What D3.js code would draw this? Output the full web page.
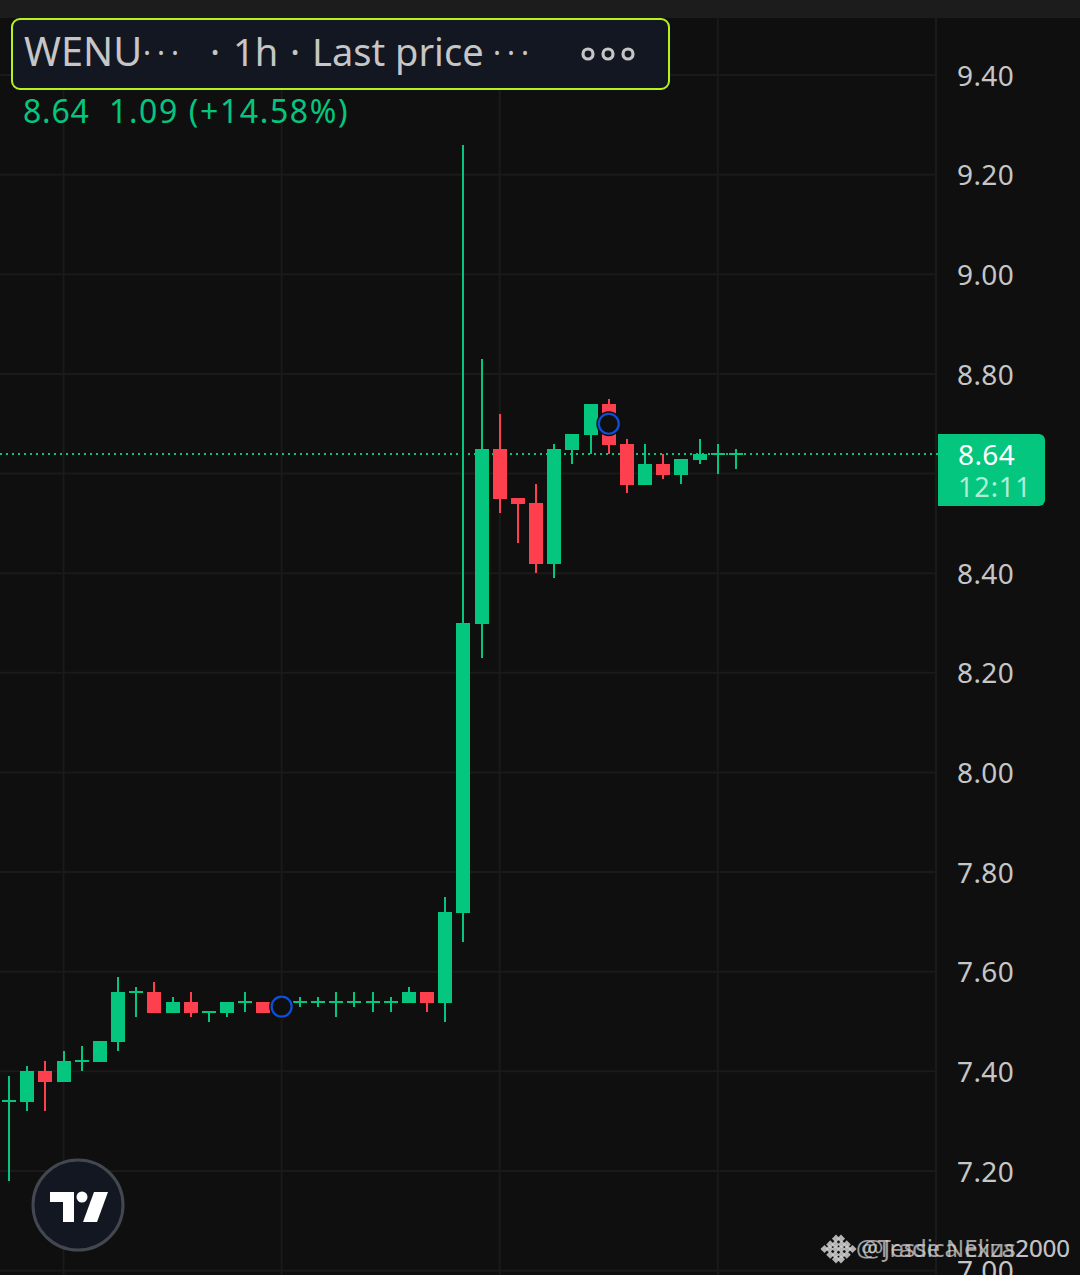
<!DOCTYPE html>
<html>
<head>
<meta charset="utf-8">
<script src="https://d3js.org/d3.v7.min.js"></script>
<style>
  html, body { margin: 0; padding: 0; background: #0f0f0f; }
  svg { display: block; }
  text { font-family: "Noto Sans", "Open Sans", sans-serif; }
</style>
</head>
<body>
<script>
// one entry per hourly candle, left to right
var opens  = [7.34,7.34,7.40,7.38,7.42,7.42,7.46,7.56,7.56,7.52,7.54,7.52,7.52,7.54,7.54,7.53,7.54,7.54,7.54,7.54,7.54,7.54,7.54,7.56,7.54,7.72,8.30,8.65,8.55,8.54,8.42,8.65,8.68,8.74,8.66,8.58,8.62,8.60,8.63,8.64,8.64];
var closes = [7.34,7.40,7.38,7.42,7.42,7.46,7.56,7.56,7.52,7.54,7.52,7.52,7.54,7.54,7.52,7.53,7.54,7.54,7.54,7.54,7.54,7.54,7.56,7.54,7.72,8.30,8.65,8.55,8.54,8.42,8.65,8.68,8.74,8.66,8.58,8.62,8.60,8.63,8.64,8.64,8.64];
var highs  = [7.39,7.41,7.42,7.44,7.45,7.46,7.59,7.57,7.58,7.55,7.56,7.52,7.54,7.56,7.54,7.53,7.55,7.55,7.56,7.56,7.56,7.55,7.57,7.56,7.75,9.26,8.83,8.72,8.55,8.58,8.66,8.68,8.74,8.75,8.67,8.66,8.64,8.63,8.67,8.66,8.65];
var lows   = [7.18,7.32,7.32,7.38,7.40,7.42,7.44,7.51,7.52,7.52,7.51,7.50,7.51,7.52,7.52,7.53,7.53,7.53,7.51,7.53,7.52,7.52,7.54,7.52,7.50,7.66,8.23,8.52,8.46,8.40,8.39,8.62,8.64,8.64,8.56,8.58,8.59,8.58,8.62,8.60,8.61];

var priceTicks = [7.00,7.20,7.40,7.60,7.80,8.00,8.20,8.40,8.60,8.80,9.00,9.20,9.40];
var timeGrid = [3, 15, 27, 39];   // candles that carry a vertical grid line
var markers = [15, 33];           // candles covered by the blue event circle
var markerPrices = [7.53, 8.70];
var lastPrice = 8.64;

var UP = "#04c67f", DOWN = "#fe3f4e", BG = "#0f0f0f", GRID = "#1a1a1a", TXT = "#c6c6c6";

var W = 1080, H = 1275, axisX = 936;

var svg = d3.select("body").append("svg").attr("width", W).attr("height", H);
svg.append("rect").attr("width", W).attr("height", H).attr("fill", BG);
svg.append("rect").attr("width", W).attr("height", 18).attr("fill", "#1c1c1c");

// 9.40 sits at y=75, 7.20 at y=1171
var y = d3.scaleLinear().domain([7.2, 9.4]).range([1171, 75]);
var x = d3.scaleLinear().domain([0, opens.length - 1]).range([9, 736]);

// grid
svg.append("g").selectAll("line").data(priceTicks).enter().append("line")
  .attr("x1", 0).attr("x2", axisX)
  .attr("y1", function(d) { return y(d); }).attr("y2", function(d) { return y(d); })
  .attr("stroke", GRID).attr("stroke-width", 2);
svg.append("g").selectAll("line").data(timeGrid).enter().append("line")
  .attr("x1", function(d) { return x(d); }).attr("x2", function(d) { return x(d); })
  .attr("y1", 18).attr("y2", H)
  .attr("stroke", GRID).attr("stroke-width", 2);
svg.append("line").attr("x1", axisX).attr("x2", axisX).attr("y1", 18).attr("y2", H)
  .attr("stroke", GRID).attr("stroke-width", 2);

// price axis
var axis = d3.axisRight(y).tickValues(priceTicks).tickFormat(d3.format(".2f")).tickSize(0).tickPadding(0);
var ax = svg.append("g").attr("transform", "translate(957,0)").call(axis);
ax.select(".domain").remove();
ax.selectAll("text").attr("fill", TXT).style("font-size", "28px").style("letter-spacing", "0.4px")
  .style("font-family", '"Noto Sans", sans-serif').attr("dy", "0.36em");

// last price line
svg.append("line").attr("x1", 0).attr("x2", axisX + 2)
  .attr("y1", y(lastPrice) + 0.5).attr("y2", y(lastPrice) + 0.5)
  .attr("stroke", UP).attr("stroke-width", 2).attr("stroke-dasharray", "2 4");

// candles
var idx = d3.range(opens.length);
function col(i) { return closes[i] < opens[i] ? DOWN : UP; }
function py(p) { return Math.round(y(p)); }

svg.append("g").selectAll("rect").data(idx).enter().append("rect")
  .attr("x", function(i) { return Math.round(x(i)) - 1; })
  .attr("width", 2)
  .attr("y", function(i) { return py(highs[i]); })
  .attr("height", function(i) { return py(lows[i]) - py(highs[i]); })
  .attr("fill", col);

svg.append("g").selectAll("rect").data(idx).enter().append("rect")
  .attr("x", function(i) { return Math.round(x(i)) - 7; })
  .attr("width", 14)
  .attr("y", function(i) { return opens[i] == closes[i] ? py(opens[i]) - 1 : py(Math.max(opens[i], closes[i])); })
  .attr("height", function(i) { return opens[i] == closes[i] ? 2 : Math.abs(py(opens[i]) - py(closes[i])) + 1; })
  .attr("fill", col);

// event circles hide the candle under them, with a thin dark halo
var mk = svg.append("g").selectAll("g").data(markers).enter().append("g")
  .attr("transform", function(d, i) { return "translate(" + x(d) + "," + y(markerPrices[i]) + ")"; });
mk.append("circle").attr("r", 12.5).attr("fill", BG);
mk.append("circle").attr("r", 10).attr("fill", BG).attr("stroke", "#0b52d8").attr("stroke-width", 2.2);

// legend box
svg.append("rect").attr("x", 12).attr("y", 19).attr("width", 657).attr("height", 70).attr("rx", 8)
  .attr("fill", "#131722").attr("stroke", "#b4f41c").attr("stroke-width", 2);
function label(px, py_, size, str) {
  return svg.append("text").attr("x", px).attr("y", py_).attr("fill", TXT).style("font-size", size + "px").text(str);
}
label(24, 66, 39.7, "WENU");
label(143, 64, 30, "···").style("letter-spacing", "6px");
label(210, 66, 38, "·");
label(233, 66, 38, "1h");
label(290, 66, 38, "·");
label(312, 66, 38, "Last price");
label(493, 64, 30, "···").style("letter-spacing", "6px");
svg.append("g").selectAll("circle").data([588, 608, 628]).enter().append("circle")
  .attr("cx", function(d) { return d; }).attr("cy", 54).attr("r", 5)
  .attr("fill", "none").attr("stroke", TXT).attr("stroke-width", 3.2);

svg.append("text").attr("x", 23).attr("y", 123).attr("fill", UP).style("font-size", "32px")
  .style("letter-spacing", "0.8px").text("8.64");
svg.append("text").attr("x", 109).attr("y", 123).attr("fill", UP).style("font-size", "32px")
  .style("letter-spacing", "1.6px").text("1.09 (+14.58%)");

// price tag
svg.append("path").attr("d", "M938 434H1039a6 6 0 0 1 6 6V500a6 6 0 0 1-6 6H938Z").attr("fill", UP);
svg.append("text").attr("x", 958).attr("y", 465).attr("fill", "#fff").style("font-size", "28px")
  .style("letter-spacing", "0.4px").text(d3.format(".2f")(lastPrice));
svg.append("text").attr("x", 958).attr("y", 497).attr("fill", "#fff").attr("fill-opacity", 0.7).style("font-size", "27px")
  .style("letter-spacing", "0.9px").text("12:11");

// tradingview badge
svg.append("circle").attr("cx", 78).attr("cy", 1205).attr("r", 45)
  .attr("fill", "#131722").attr("stroke", "#43474f").attr("stroke-width", 3);
svg.append("path").attr("d", "M50 1192H74V1222H63V1202H50Z").attr("fill", "#fff");
svg.append("circle").attr("cx", 82).attr("cy", 1197).attr("r", 5.5).attr("fill", "#fff");
svg.append("path").attr("d", "M94 1192H108L97 1222H83Z").attr("fill", "#fff");

// two watermarks stacked on top of each other
function logo(cx, cy) {
  var g = svg.append("g").attr("transform", "translate(" + cx + "," + cy + ") scale(1.15)").attr("fill", "#d0d0d0").attr("fill-opacity", 0.85);
  [[0, -9], [-5, -4], [5, -4], [0, 0], [-10, 0], [10, 0], [-5, 5], [5, 5], [0, 9]].forEach(function(p) {
    g.append("rect").attr("x", p[0] - 2.5).attr("y", p[1] - 2.5).attr("width", 5).attr("height", 5)
      .attr("transform", "rotate(45 " + p[0] + " " + p[1] + ")");
  });
}
logo(836, 1249);
logo(841, 1249);
svg.append("text").attr("x", 856).attr("y", 1257).attr("fill", "#d0d0d0").attr("fill-opacity", 0.75).style("font-size", "24px")
  .attr("textLength", 214).attr("lengthAdjust", "spacing").text("@Trade Nexus2000");
svg.append("text").attr("x", 862).attr("y", 1257).attr("fill", "#d0d0d0").attr("fill-opacity", 0.75).style("font-size", "24px")
  .attr("textLength", 208).attr("lengthAdjust", "spacing").text("@Jessica Eliza2000");
</script>
</body>
</html>
